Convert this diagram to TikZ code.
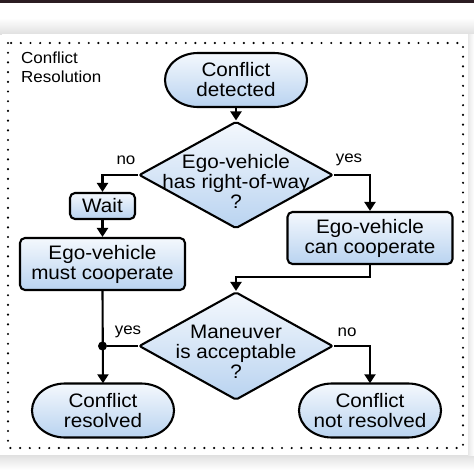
\documentclass[tikz,border=0pt]{standalone}
\usepackage{fontspec}
\setmainfont{Liberation Sans}
\newfontfamily\mainff[FakeStretch=1.06]{Liberation Sans}
\usetikzlibrary{shapes.geometric,arrows.meta}
\definecolor{fillTop}{HTML}{F4F8FD}
\definecolor{fillBot}{HTML}{B9D3F0}
\definecolor{topband}{HTML}{2B1C22}
\newcommand{\mainfs}{\mainff\fontsize{19.5}{20}\selectfont}
\newcommand{\lblfs}{\mainff\fontsize{16}{19}\selectfont}
\tikzset{
 box/.style={draw, line width=2.1pt, rounded corners=5pt, top color=fillTop, bottom color=fillBot, align=center, font=\mainfs, inner sep=0pt},
 termtext/.style={align=center, font=\mainfs, inner sep=0pt, minimum width=142pt, minimum height=54pt},
 stadiumline/.style={draw, line width=2.1pt, top color=fillTop, bottom color=fillBot},
 decision/.style={draw, diamond, line width=2.1pt, rounded corners=2pt, top color=fillTop, bottom color=fillBot, minimum width=194pt, minimum height=107pt, inner sep=0pt},
 txt/.style={align=center, font=\mainfs, inner sep=0pt},
 lbl/.style={font=\lblfs, inner sep=0pt},
 flow/.style={line width=2.1pt, -{Triangle[width=11pt,length=9pt]}},
 conn/.style={line width=2.1pt},
}
\newcommand{\stadiumshape}[2]{%
  \shade[stadiumline] (#1-38,#2-27) -- (#1+38,#2-27)
    arc[start angle=-90, end angle=90, x radius=33, y radius=27]
    -- (#1-38,#2+27)
    arc[start angle=90, end angle=270, x radius=33, y radius=27] -- cycle;}
\begin{document}
\begin{tikzpicture}[x=1pt,y=-1pt]
\useasboundingbox (0,0) rectangle (474,474);
\fill[white] (0,0) rectangle (474,474);
\fill[topband] (0,0) rectangle (474,2.5);
\shade[top color=white, bottom color=black!12] (0,18) rectangle (474,34);
\shade[top color=black!12, bottom color=white] (0,455) rectangle (474,470);
\shade[left color=black!9, right color=white] (468,34) rectangle (474,455);
\fill[white] (2,34) rectangle (468,455);
% dotted frame
\draw[line width=2.4pt, line cap=round, dash pattern=on 0pt off 9.7pt] (8,43) rectangle (463,448);
\node[lbl, align=left, anchor=north west] (title) at (21,52) {Conflict\\Resolution};
% terminals (outline drawn first)
\stadiumshape{236}{80}
\stadiumshape{103}{410.5}
\stadiumshape{370}{410.5}
\node[termtext] (det) at (236,80) {Conflict\\detected};
\node[termtext] (res) at (103,410.5) {Conflict\\resolved};
\node[termtext] (nres) at (370,410.5) {Conflict\\not resolved};
% other nodes
\node[decision] (d1) at (236,175) {};
\node[txt] (d1t) at (236,181) {Ego-vehicle\\has right-of-way\\?};
\node[box, minimum width=65pt, minimum height=26pt] (wait) at (102.5,206) {Wait};
\node[box, minimum width=165pt, minimum height=52pt] (must) at (102.5,264) {Ego-vehicle\\must cooperate};
\node[box, minimum width=165pt, minimum height=52pt] (can) at (370,238) {Ego-vehicle\\can cooperate};
\node[decision, minimum height=108pt] (d2) at (236,346) {};
\node[txt] (d2t) at (236,352) {Maneuver\\is acceptable\\?};
\coordinate (j1) at (370,277);
\node[circle, fill, inner sep=0pt, minimum size=9pt] (dot) at (102.5,346) {};
% labels
\node[lbl] (no1) at (126,160) {no};
\node[lbl] (yes1) at (349,160) {yes};
\node[lbl] (yes2) at (128,332) {yes};
\node[lbl] (no2) at (347,332) {no};
% connectors
\draw[flow] (det.south) -- (d1.north);
\draw[flow] (d1.west) -| (wait.north);
\draw[flow] (d1.east) -| (can.north);
\draw[flow] (wait.south) -- (must.north);
\draw[flow] (can.south) -- (j1) -| (d2.north);
\draw[flow] (must.south) -- (res.north);
\draw[conn] (d2.west) -- (dot);
\draw[flow] (d2.east) -| (nres.north);
\end{tikzpicture}
\end{document}
